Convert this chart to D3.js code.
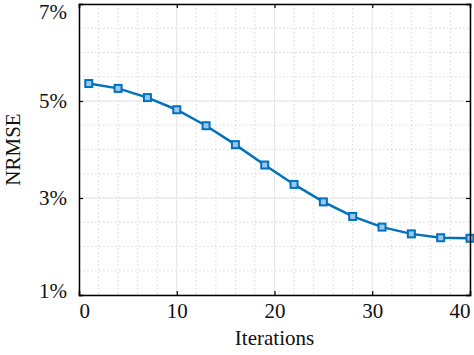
<!DOCTYPE html>
<html><head><meta charset="utf-8">
<script src="https://cdn.jsdelivr.net/npm/d3@7"></script>
<style>body{margin:0;background:#fff}svg{display:block}</style>
</head><body>
<svg id="c" width="474" height="355"></svg>
<script>
const iterations = [1,4,7,10,13,16,19,22,25,28,31,34,37,40];
const nrmse = [5.36,5.26,5.07,4.82,4.49,4.10,3.68,3.28,2.92,2.62,2.40,2.26,2.18,2.17];
const xTicks = [0,10,20,30,40];
const yTicks = [1,3,5,7];
const xMinor = d3.range(0,41,2);
const yMinor = d3.range(1,7.01,0.5);

const svg = d3.select("#c");
const L=79, R=470, T=4, B=295;
const x = d3.scaleLinear().domain([0,40]).range([L,R]);
const y = d3.scaleLinear().domain([1,7]).range([B,T]);
const font = "'Liberation Serif','Times New Roman',serif";
const FS = 21;

// minor grid
const g = svg.append("g");
g.selectAll(".mx").data(xMinor).enter().append("line")
  .attr("x1",d=>x(d)).attr("x2",d=>x(d)).attr("y1",T).attr("y2",B)
  .attr("stroke","#d9d9d9").attr("stroke-width",1).attr("stroke-dasharray","1.5,2.5");
g.selectAll(".my").data(yMinor).enter().append("line")
  .attr("y1",d=>y(d)).attr("y2",d=>y(d)).attr("x1",L).attr("x2",R)
  .attr("stroke","#d9d9d9").attr("stroke-width",1).attr("stroke-dasharray","1.5,2.5");
// major grid
g.selectAll(".Mx").data(xTicks).enter().append("line")
  .attr("x1",d=>x(d)).attr("x2",d=>x(d)).attr("y1",T).attr("y2",B)
  .attr("stroke","#e6e6e6").attr("stroke-width",1);
g.selectAll(".My").data(yTicks).enter().append("line")
  .attr("y1",d=>y(d)).attr("y2",d=>y(d)).attr("x1",L).attr("x2",R)
  .attr("stroke","#e6e6e6").attr("stroke-width",1);

// line
const pts = iterations.map((d,i)=>[d,nrmse[i]]);
svg.append("path").datum(pts)
  .attr("fill","none").attr("stroke","#0072BD").attr("stroke-width",2.5)
  .attr("d",d3.line().x(d=>x(d[0])).y(d=>y(d[1])));
svg.selectAll(".pt").data(pts).enter().append("rect")
  .attr("x",d=>x(d[0])-3.5).attr("y",d=>y(d[1])-3.5).attr("width",7).attr("height",7)
  .attr("fill","#9cc6ea").attr("stroke","#0072BD").attr("stroke-width",2);

// axes
const ax = d3.axisBottom(x).tickValues(xTicks).tickSize(-4).tickPadding(8).tickFormat(d3.format("d"));
const axT = d3.axisTop(x).tickValues(xTicks).tickSize(-4).tickFormat("");
const ay = d3.axisLeft(y).tickValues(yTicks).tickSize(-4).tickPadding(12).tickFormat(d=>d+"%");
const ayR = d3.axisRight(y).tickValues(yTicks).tickSize(-4).tickFormat("");
function style(sel){
  sel.select(".domain").attr("stroke","#000").attr("stroke-width",1.5).attr("fill","none");
  sel.selectAll(".tick line").attr("stroke","#000").attr("stroke-width",1.2);
  sel.selectAll("text").attr("font-family",font).attr("font-size",FS).attr("fill","#111");
}
const gx = svg.append("g").attr("transform",`translate(0,${B})`).call(ax).call(style);
svg.append("g").attr("transform",`translate(0,${T})`).call(axT).call(style);
const gy = svg.append("g").attr("transform",`translate(${L},0)`).call(ay).call(style);
svg.append("g").attr("transform",`translate(${R},0)`).call(ayR).call(style);
gx.selectAll(".tick").filter(d=>d===0).select("text").attr("text-anchor","start");
gx.selectAll(".tick").filter(d=>d===40).select("text").attr("text-anchor","end");
gy.selectAll(".tick").filter(d=>d===7).select("text").attr("y",8);
gy.selectAll(".tick").filter(d=>d===1).select("text").attr("y",-4);

svg.append("text").attr("x",(L+R)/2).attr("y",345).attr("text-anchor","middle")
  .attr("font-family",font).attr("font-size",FS).attr("fill","#111").text("Iterations");
svg.append("text").attr("transform",`translate(20,${(T+B)/2}) rotate(-90)`).attr("text-anchor","middle")
  .attr("font-family",font).attr("font-size",FS).attr("fill","#111").text("NRMSE");
</script>
</body></html>
